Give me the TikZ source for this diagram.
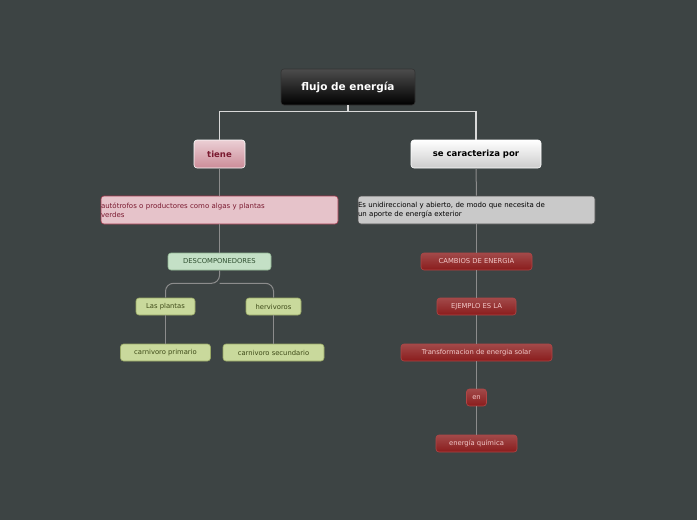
\documentclass[tikz,border=0pt]{standalone}
\usepackage{fontspec}
\setmainfont{DejaVu Sans}
\begin{document}
\begin{tikzpicture}[x=1pt,y=-1pt,
 base/.style={rounded corners=3pt,inner sep=0pt,align=center,line width=0.6pt},
 title/.style={base,top color=black!70,bottom color=black,draw=black!80,text=white,font=\bfseries\fontsize{10.5}{12}\selectfont},
 lvone/.style={base,font=\bfseries\fontsize{8.5}{10}\selectfont,draw=white},
 pinkbox/.style={base,fill=pinkc,draw=pinkd,text=pinkt,font=\fontsize{7}{8.5}\selectfont,align=left},
 graybox/.style={base,fill=grayc,draw=black!70,text=black,font=\fontsize{7}{8.5}\selectfont,align=left},
 greenbox/.style={base,fill=greenc,draw=greend,text=greent,font=\fontsize{6.8}{8}\selectfont},
 olivebox/.style={base,fill=olivec,draw=olived,text=olivet,font=\fontsize{6.8}{8}\selectfont},
 redbox/.style={base,top color=redc!80!white,bottom color=redc,draw=redd,text=redt,font=\fontsize{6.8}{8}\selectfont},
 link/.style={draw=black!45,line width=1pt},
 toplink/.style={draw=black!15,line width=1.2pt}]
\definecolor{bgc}{HTML}{3D4444}
\definecolor{pinkc}{HTML}{E6C3CA}
\definecolor{pinkd}{HTML}{A33A4E}
\definecolor{pinkt}{HTML}{7A1A30}
\definecolor{grayc}{HTML}{C9C9C9}
\definecolor{greenc}{HTML}{C4E0C6}
\definecolor{greend}{HTML}{8FB592}
\definecolor{greent}{HTML}{2F4F30}
\definecolor{olivec}{HTML}{C9D99C}
\definecolor{olived}{HTML}{98A865}
\definecolor{olivet}{HTML}{3E4A18}
\definecolor{redc}{HTML}{8A1C1C}
\definecolor{redd}{HTML}{B04545}
\definecolor{redt}{HTML}{F2C8C8}
\fill[bgc] (0,0) rectangle (697,520);
\useasboundingbox (0,0) rectangle (697,520);
\node[title,minimum width=134pt,minimum height=36pt] (t) at (348,87) {flujo de energía};
\node[lvone,top color=pinkc!80!white,bottom color=pinkc!60!pinkd,text=pinkt,minimum width=51pt,minimum height=28pt] (a) at (219.5,154) {tiene};
\node[lvone,top color=white,bottom color=black!20,text=black,minimum width=130pt,minimum height=28pt] (b) at (476,154) {se caracteriza por};
\node[pinkbox,text width=237pt,minimum height=28pt] (a1) at (219.5,210) {autótrofos o productores como algas y plantas\\verdes};
\node[graybox,text width=237pt,minimum height=28pt] (b1) at (476.5,210) {Es unidireccional y abierto, de modo que necesita de\\un aporte de energía exterior};
\node[greenbox,minimum width=103pt,minimum height=17pt] (d) at (219.5,261.5) {DESCOMPONEDORES};
\node[olivebox,minimum width=59pt,minimum height=17pt] (p) at (165.5,306.5) {Las plantas};
\node[olivebox,minimum width=55pt,minimum height=17pt] (h) at (273.5,306.5) {hervivoros};
\node[olivebox,minimum width=90pt,minimum height=17pt] (cp) at (165.5,352.5) {carnivoro primario};
\node[olivebox,minimum width=101pt,minimum height=17pt] (cs) at (273.5,352.5) {carnivoro secundario};
\node[redbox,minimum width=111pt,minimum height=17pt] (r1) at (476.5,261.5) {CAMBIOS DE ENERGIA};
\node[redbox,minimum width=79pt,minimum height=17pt] (r2) at (476.5,306.5) {EJEMPLO ES LA};
\node[redbox,minimum width=151pt,minimum height=17pt] (r3) at (476.5,352.5) {Transformacion de energia solar};
\node[redbox,minimum width=20pt,minimum height=17pt] (r4) at (476.5,397.5) {en};
\node[redbox,minimum width=81pt,minimum height=17pt] (r5) at (476.5,443.5) {energía química};
\begin{scope}[on background layer/.try]
\end{scope}
\draw[toplink] (t.south) -- ++(0,6) -| (a.north);
\draw[toplink] (t.south) ++(0,6) -| (b.north);
\draw[link] (a) -- (a1);
\draw[link] (a1) -- (d);
\draw[link] (b) -- (b1);
\draw[link] (b1) -- (r1);
\draw[link] (r1) -- (r2);
\draw[link] (r2) -- (r3);
\draw[link] (r3) -- (r4);
\draw[link] (r4) -- (r5);
\draw[link,rounded corners=8pt] (d.south) -- ++(0,13) -| (p.north);
\draw[link,rounded corners=8pt] (d.south) ++(0,13) -| (h.north);
\draw[link] (p) -- (cp);
\draw[link] (h) -- (cs);
\end{tikzpicture}
\end{document}
